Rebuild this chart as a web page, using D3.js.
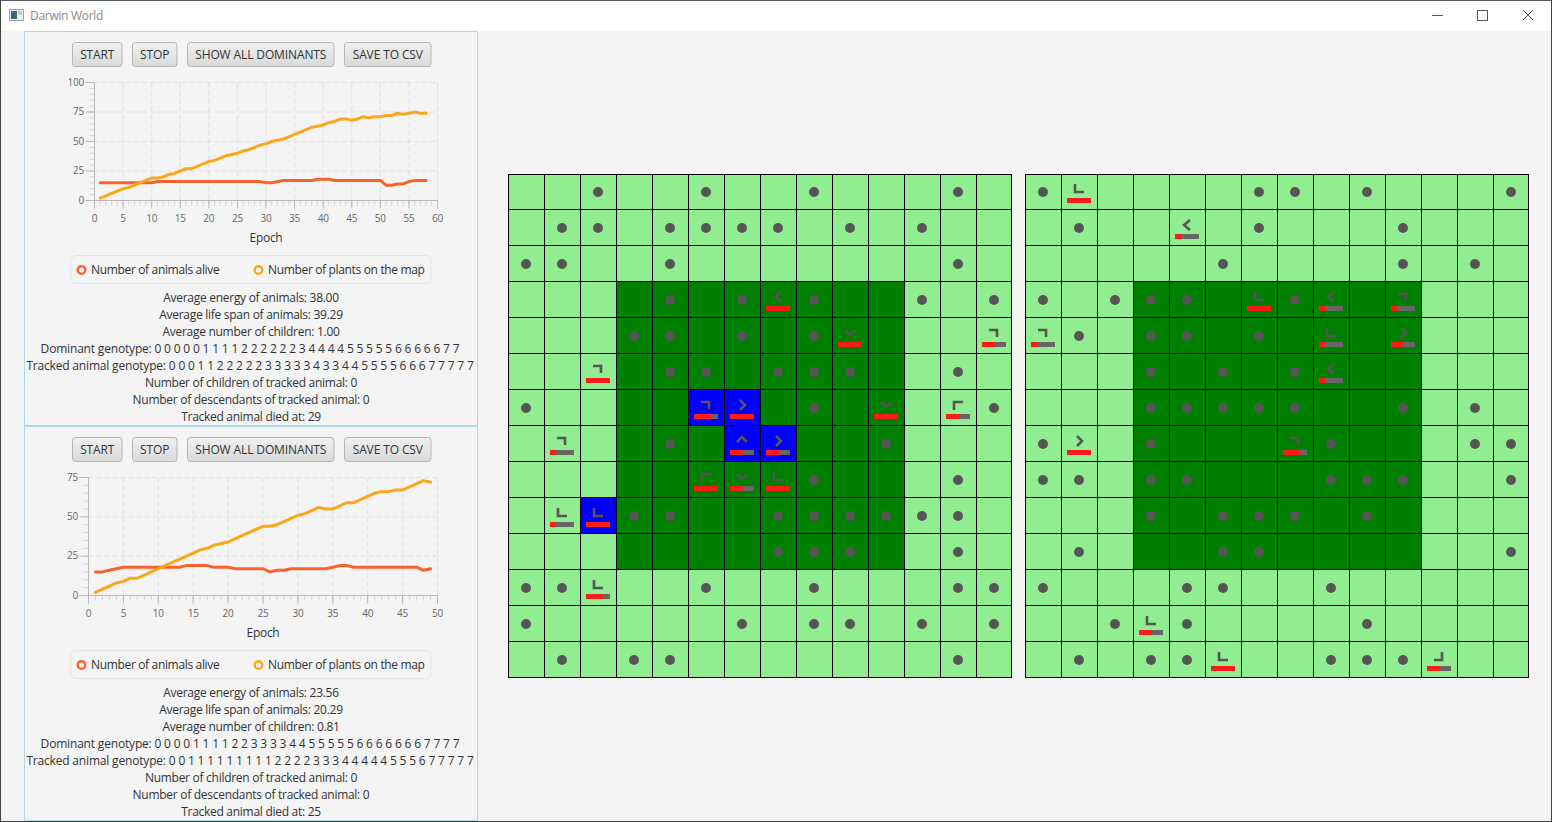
<!DOCTYPE html>
<html>
<head>
<meta charset="utf-8">
<title>Darwin World</title>
<script src="https://cdn.jsdelivr.net/npm/d3@7"></script>
<style>
html, body { margin: 0; padding: 0; background: #f4f4f4; overflow: hidden; }
svg { display: block; }
text { font-family: "Open Sans", sans-serif; }
</style>
</head>
<body>
<svg id="app" width="1552" height="822"></svg>
<script>
// chart values, one entry per epoch starting at 1
const animals1 = [15,15,15,15,15,15,15,15,15,15,16,16,16,16,16,16,16,16,16,16,16,16,16,16,16,16,16,16,16,15,15,16,17,17,17,17,17,17,18,18,18,17,17,17,17,17,17,17,17,17,13,13,14,14,16,17,17,17];
const plants1 = [2,4,6,8,10,11,13,15,17,19,19,20,22,23,25,27,27,29,31,33,34,36,38,39,40,42,43,45,47,48,50,51,52,54,56,58,60,62,63,64,66,67,69,69,68,69,71,70,71,71,72,72,74,73,74,75,74,74];
const animals2 = [15,15,16,17,18,18,18,18,18,18,18,18,18,19,19,19,19,18,18,18,17,17,17,17,17,15,16,16,17,17,17,17,17,17,18,19,19,18,18,18,18,18,18,18,18,18,18,16,17];
const plants2 = [2,4,6,8,9,11,11,13,15,17,19,21,23,25,27,29,30,32,33,34,36,38,40,42,44,44,45,47,49,51,52,54,56,55,55,57,59,59,61,63,65,66,66,67,67,69,71,73,72];

const xMax = [60, 50];
const yMax = [100, 75];
const buttonLabels = ["START", "STOP", "SHOW ALL DOMINANTS", "SAVE TO CSV"];
const legendLabels = ["Number of animals alive", "Number of plants on the map"];

const stats1 = [
    "Average energy of animals: 38.00",
    "Average life span of animals: 39.29",
    "Average number of children: 1.00",
    "Dominant genotype: 0 0 0 0 0 1 1 1 1 2 2 2 2 2 2 3 4 4 4 4 5 5 5 5 5 6 6 6 6 6 7 7",
    "Tracked animal genotype: 0 0 0 1 1 2 2 2 2 2 3 3 3 3 3 4 3 3 4 4 5 5 5 5 6 6 6 7 7 7 7 7",
    "Number of children of tracked animal: 0",
    "Number of descendants of tracked animal: 0",
    "Tracked animal died at: 29"
];
const stats2 = [
    "Average energy of animals: 23.56",
    "Average life span of animals: 20.29",
    "Average number of children: 0.81",
    "Dominant genotype: 0 0 0 0 1 1 1 1 2 2 3 3 3 3 4 4 5 5 5 5 5 6 6 6 6 6 6 6 7 7 7 7",
    "Tracked animal genotype: 0 0 1 1 1 1 1 1 1 1 1 2 2 2 2 3 3 3 4 4 4 4 4 5 5 5 6 7 7 7 7 7",
    "Number of children of tracked animal: 0",
    "Number of descendants of tracked animal: 0",
    "Tracked animal died at: 25"
];

// map contents: '*' is a plant, per row of the 14x14 board
const plantsLeft = [
    "..*..*..*...*.",
    ".**.****.*.*..",
    "**..*.......*.",
    "....*.*.*..*.*",
    "...**.*.*.....",
    "....**.***..*.",
    "*.......*....*",
    "....*.....*...",
    "........*...*.",
    "...**..******.",
    ".......***..*.",
    "**...*..*...**",
    "*.....*.**.*.*",
    ".*.**.......*."
];
const plantsRight = [
    "*.....**.*...*",
    ".*....*...*...",
    ".....*....*.*.",
    "*.***..*......",
    ".*.**.*.......",
    "...*.*.*......",
    "...*****..*.*.",
    "*..*....*...**",
    "**.**...***..*",
    "...*.***.*....",
    ".*...**......*",
    "*...**..*.....",
    "..*.*....*....",
    ".*.**...***..."
];

// [row, col, direction, energy share]
const animalsLeft = [
    [3,7,"W",1],[4,9,"S",1],[4,13,"NE",0.54],[5,2,"NE",1],[6,5,"NE",0.7],[6,6,"E",1],
    [6,10,"S",1],[6,12,"NW",0.55],[7,1,"NE",0.22],[7,6,"N",0.53],[7,7,"E",0.54],
    [8,5,"NW",1],[8,6,"S",0.53],[8,7,"SW",1],[9,1,"SW",0.22],[9,2,"SW",1],[11,2,"SW",0.7]
];
const animalsRight = [
    [0,1,"SW",1],[1,4,"W",0.25],[3,6,"SW",1],[3,8,"W",0.25],[3,10,"NE",0.25],[4,0,"NE",0.25],
    [4,8,"SW",0.25],[4,10,"E",0.54],[5,8,"W",0.25],[7,1,"E",1],[7,7,"NE",0.72],
    [12,3,"SW",0.54],[13,5,"SW",1],[13,11,"SE",0.55]
];
const blueLeft = [[6,5],[6,6],[7,6],[7,7],[9,2]];
const blueRight = [];

// stroke paths of the heading glyph, relative to the cell centre
const glyphs = {
    N:  "M-5,-2L0,-7L5,-2",
    NE: "M-5,-6L3,-6L3,1",
    E:  "M-2,-8L3,-3L-2,2",
    SE: "M-5,0L3,0L3,-8",
    S:  "M-5,-6L0,-1L5,-6",
    SW: "M-4,-8L-4,0L5,0",
    W:  "M3,-8L-3,-3L3,2",
    NW: "M5,-6L-4,-6L-4,2"
};

const RED = "#f9622d", ORANGE = "#fba71b", TEXT = "#333333";
const svg = d3.select("#app");

function drawWindow() {
    /* Title bar and window border */
    svg.append("rect").attr("width", 1552).attr("height", 31).attr("fill", "#ffffff");
    svg.append("rect").attr("width", 1552).attr("height", 1).attr("fill", "#5c5c66");
    svg.append("rect").attr("width", 1).attr("height", 822).attr("fill", "#444444");
    svg.append("rect").attr("x", 1551).attr("width", 1).attr("height", 822).attr("fill", "#444444");
    svg.append("rect").attr("y", 821).attr("width", 1552).attr("height", 1).attr("fill", "#444444");

    const icon = svg.append("g");
    icon.append("rect").attr("x", 9.5).attr("y", 9.5).attr("width", 14).attr("height", 11)
        .attr("fill", "#f0f0f0").attr("stroke", "#a0a0a0");
    icon.append("rect").attr("x", 11).attr("y", 11).attr("width", 6).attr("height", 8).attr("fill", "#2f6f78");
    icon.append("rect").attr("x", 18).attr("y", 11).attr("width", 4).attr("height", 4).attr("fill", "#c8c8c8");

    svg.append("text").attr("x", 30).attr("y", 20).attr("font-size", 12)
        .attr("letter-spacing", -0.3).attr("fill", "#8a8a8a").text("Darwin World");

    const ctl = svg.append("g").attr("stroke", "#555555").attr("fill", "none");
    ctl.append("path").attr("d", "M1432,15.5H1443");
    ctl.append("rect").attr("x", 1477.5).attr("y", 10.5).attr("width", 10).attr("height", 10);
    ctl.append("path").attr("d", "M1523,10L1533,20M1533,10L1523,20");
}

function drawButtons(g, y) {
    const defs = [[72.5, 49.5], [132.5, 44.5], [187.5, 146.5], [344.5, 86.5]];
    buttonLabels.forEach((label, i) => {
        g.append("rect")
            .attr("x", defs[i][0]).attr("y", y)
            .attr("width", defs[i][1]).attr("height", 24)
            .attr("rx", 3)
            .attr("fill", "url(#btn)").attr("stroke", "#b4b4b4");
        g.append("text")
            .attr("x", defs[i][0] + defs[i][1] / 2).attr("y", y + 16.5)
            .attr("text-anchor", "middle").attr("font-size", 12)
            .attr("letter-spacing", -0.12)
            .attr("fill", TEXT).text(label);
    });
}

function drawChart(g, left, right, top, bottom, xTop, yTop, animals, plants) {
    /* JavaFX style line chart with dashed grid and minor ticks */
    const x = d3.scaleLinear().domain([0, xTop]).range([left, right]);
    const y = d3.scaleLinear().domain([0, yTop]).range([bottom, top]);
    const xMajor = d3.range(0, xTop + 1, 5);
    const xMinor = d3.range(0, xTop + 1, 1);
    const yMajor = d3.range(0, yTop + 1, 25);
    const yMinor = d3.range(0, yTop + 1, 5);

    const grid = g.append("g").attr("stroke", "#e0e0e0").attr("stroke-dasharray", "5,3").attr("fill", "none");
    xMajor.slice(1).forEach(v => {
        grid.append("line").attr("x1", x(v)).attr("x2", x(v)).attr("y1", top).attr("y2", bottom);
    });
    yMajor.slice(1).forEach(v => {
        grid.append("line").attr("x1", left).attr("x2", right).attr("y1", y(v)).attr("y2", y(v));
    });

    // minor ticks first, the major axis goes on top
    const xAxisMinor = g.append("g").attr("transform", "translate(0," + bottom + ")")
        .call(d3.axisBottom(x).offset(0).tickValues(xMinor).tickSize(5).tickFormat(""));
    const yAxisMinor = g.append("g").attr("transform", "translate(" + left + ",0)")
        .call(d3.axisLeft(y).offset(0).tickValues(yMinor).tickSize(5).tickFormat(""));
    const xAxis = g.append("g").attr("transform", "translate(0," + bottom + ")")
        .call(d3.axisBottom(x).offset(0).tickValues(xMajor).tickSize(8).tickPadding(6));
    const yAxis = g.append("g").attr("transform", "translate(" + left + ",0)")
        .call(d3.axisLeft(y).offset(0).tickValues(yMajor).tickSize(9).tickPadding(1.5));

    [xAxisMinor, yAxisMinor].forEach(a => {
        a.selectAll("line").attr("stroke", "#d4d4d4");
        a.select(".domain").attr("stroke", "#b8b8b8");
    });
    [xAxis, yAxis].forEach(a => {
        a.selectAll("line").attr("stroke", "#b8b8b8");
        a.select(".domain").attr("stroke", "#b8b8b8");
        a.selectAll("text").attr("fill", "#666666").attr("font-size", 10)
            .attr("letter-spacing", -0.2)
            .style("font-family", '"Open Sans", sans-serif');
    });

    const line = d3.line().x((d, i) => x(i + 1)).y(d => y(d));
    [[animals, RED], [plants, ORANGE]].forEach(s => {
        g.append("path").datum(s[0]).attr("d", line).attr("fill", "none")
            .attr("stroke", s[1]).attr("stroke-width", 3)
            .attr("stroke-linecap", "round").attr("stroke-linejoin", "round");
    });

    g.append("text").attr("x", (left + right) / 2).attr("y", bottom + 41.5)
        .attr("text-anchor", "middle").attr("font-size", 12)
        .attr("letter-spacing", -0.3)
        .attr("fill", TEXT).text("Epoch");
}

function drawLegend(g, y) {
    g.append("rect").attr("x", 71).attr("y", y).attr("width", 360).attr("height", 28)
        .attr("rx", 5).attr("fill", "#f4f4f4").attr("stroke", "#e4e4e4").attr("stroke-width", 1);
    const spots = [[81.5, 91, RED], [258.5, 268, ORANGE]];
    legendLabels.forEach((label, i) => {
        g.append("circle").attr("cx", spots[i][0]).attr("cy", y + 14.5).attr("r", 3.8)
            .attr("fill", "#f4f4f4").attr("stroke", spots[i][2]).attr("stroke-width", 2.4);
        g.append("text").attr("x", spots[i][1]).attr("y", y + 18.5).attr("font-size", 12)
            .attr("letter-spacing", -0.34)
            .attr("fill", TEXT).text(label);
    });
}

function drawStats(g, y, lines) {
    lines.forEach((t, i) => {
        // genotype lines are long, they need less squeezing than the rest
        const isGenotype = t.indexOf("genotype") >= 0;
        g.append("text").attr("x", isGenotype ? 250 : 251).attr("y", y + i * 17)
            .attr("text-anchor", "middle").attr("font-size", 12)
            .attr("letter-spacing", isGenotype ? -0.18 : -0.28)
            .attr("fill", TEXT).text(t);
    });
}

function drawMap(left, top, plants, animals, blue) {
    const col = d3.scaleBand().domain(d3.range(14)).range([left, left + 504]);
    const row = d3.scaleBand().domain(d3.range(14)).range([top, top + 504]);
    const g = svg.append("g");
    const isBlue = (r, c) => blue.some(b => b[0] === r && b[1] === c);

    d3.range(14).forEach(r => {
        d3.range(14).forEach(c => {
            let fill = "#90ee90";
            if (r >= 3 && r <= 10 && c >= 3 && c <= 10) fill = "#008000";
            if (isBlue(r, c)) fill = "#0000ff";
            // top row and last column come out a pixel short in the original
            g.append("rect").attr("x", col(c)).attr("y", r === 0 ? row(r) + 1 : row(r))
                .attr("width", c === 13 ? col.bandwidth() - 1 : col.bandwidth())
                .attr("height", r === 0 ? row.bandwidth() - 1 : row.bandwidth())
                .attr("fill", fill).attr("stroke", "#000000").attr("stroke-width", 1);
        });
    });

    plants.forEach((line, r) => {
        line.split("").forEach((ch, c) => {
            if (ch !== "*") return;
            g.append("circle").attr("cx", col(c) + 17.5).attr("cy", row(r) + 18.5).attr("r", 5)
                .attr("fill", "#555555");
        });
    });

    animals.forEach(a => {
        const cell = g.append("g")
            .attr("transform", "translate(" + (col(a[1]) + 17.5) + "," + (row(a[0]) + 18.5) + ")");
        cell.append("path").attr("d", glyphs[a[2]]).attr("fill", "none")
            .attr("stroke", "#555555").attr("stroke-width", 2.6);
        cell.append("rect").attr("x", -12).attr("y", 6).attr("width", 24).attr("height", 5)
            .attr("fill", "#666666");
        cell.append("rect").attr("x", -12).attr("y", 6).attr("width", 24 * a[3]).attr("height", 5)
            .attr("fill", "#ff1a1a");
    });
}

// button gradient
const grad = svg.append("defs").append("linearGradient").attr("id", "btn")
    .attr("x1", 0).attr("y1", 0).attr("x2", 0).attr("y2", 1);
grad.append("stop").attr("offset", "0%").attr("stop-color", "#f0f0f0");
grad.append("stop").attr("offset", "100%").attr("stop-color", "#d9d9d9");

drawWindow();

// the two statistics panels
const panelLine = svg.append("g").attr("stroke", "#add8e6").attr("fill", "none");
panelLine.append("path").attr("d", "M24.5,820.5V31.5H477.5V820.5H24.5");
panelLine.append("path").attr("d", "M25,426H477").attr("stroke-width", 2);

const p1 = svg.append("g");
drawButtons(p1, 42.5);
drawChart(p1, 94.5, 437.5, 82.5, 200.5, xMax[0], yMax[0], animals1, plants1);
drawLegend(p1, 255.5);
drawStats(p1, 302, stats1);

const p2 = svg.append("g");
drawButtons(p2, 437.5);
drawChart(p2, 88.5, 437.5, 477.5, 595.5, xMax[1], yMax[1], animals2, plants2);
drawLegend(p2, 650.5);
drawStats(p2, 697, stats2);

drawMap(508.5, 173.5, plantsLeft, animalsLeft, blueLeft);
drawMap(1025.5, 173.5, plantsRight, animalsRight, blueRight);
</script>
</body>
</html>
